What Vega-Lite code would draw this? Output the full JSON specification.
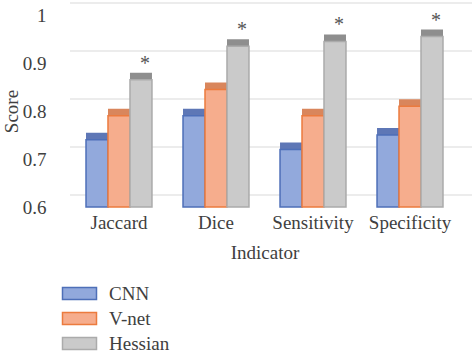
{
  "$schema": "https://vega.github.io/schema/vega-lite/v6.json",
  "width": 389,
  "height": 192,
  "autosize": {"type": "none"},
  "padding": {"left": 70, "top": 15, "right": 15, "bottom": 150},
  "background": "white",
  "config": {
    "view": {"stroke": null},
    "font": "Liberation Serif",
    "axis": {"domain": false, "ticks": false, "grid": false, "labelFontSize": 19, "labelColor": "#404040", "titleFontSize": 19, "titleFontWeight": "normal", "titleColor": "#404040", "labelFont": "Liberation Serif", "titleFont": "Liberation Serif"},
    "legend": {"labelFont": "Liberation Serif"}
  },
  "data": {
    "values": [
      {"Indicator": "Jaccard", "Model": "CNN", "Score": 0.74},
      {"Indicator": "Jaccard", "Model": "V-net", "Score": 0.79},
      {"Indicator": "Jaccard", "Model": "Hessian", "Score": 0.865},
      {"Indicator": "Dice", "Model": "CNN", "Score": 0.79},
      {"Indicator": "Dice", "Model": "V-net", "Score": 0.845},
      {"Indicator": "Dice", "Model": "Hessian", "Score": 0.935},
      {"Indicator": "Sensitivity", "Model": "CNN", "Score": 0.72},
      {"Indicator": "Sensitivity", "Model": "V-net", "Score": 0.79},
      {"Indicator": "Sensitivity", "Model": "Hessian", "Score": 0.945},
      {"Indicator": "Specificity", "Model": "CNN", "Score": 0.75},
      {"Indicator": "Specificity", "Model": "V-net", "Score": 0.81},
      {"Indicator": "Specificity", "Model": "Hessian", "Score": 0.955}
    ]
  },
  "encoding": {
    "x": {"field": "Indicator", "type": "nominal", "sort": ["Jaccard", "Dice", "Sensitivity", "Specificity"], "scale": {"paddingInner": 0.32, "paddingOuter": 0.165},
      "axis": {"labelAngle": 0, "labelPadding": 6, "title": "Indicator", "titlePadding": 11}},
    "xOffset": {"field": "Model", "sort": ["CNN", "V-net", "Hessian"], "scale": {"paddingInner": 0, "paddingOuter": 0}},
    "y": {"field": "Score", "type": "quantitative", "scale": {"domain": [0.6, 1], "nice": false, "zero": false},
      "axis": {"values": [0.6, 0.7, 0.8, 0.9, 1], "format": "~g", "labelPadding": 24, "title": "Score", "titlePadding": 1}}
  },
  "layer": [
    {
      "data": {"values": [{"g": 0.6}, {"g": 0.7}, {"g": 0.8}, {"g": 0.9}, {"g": 1.0}]},
      "mark": {"type": "rule", "yOffset": -12, "xOffset": 13, "x2Offset": 13, "color": "#D9D9D9", "strokeWidth": 1.2},
      "encoding": {
        "x": null,
        "xOffset": null,
        "y": {"field": "g", "type": "quantitative"}
      }
    },
    {
      "transform": [{"filter": "datum.Model === 'CNN'"}],
      "mark": {"type": "bar", "xOffset": 7, "x2Offset": 7, "yOffset": -7, "y2Offset": -7, "color": "#5E77B6"},
      "encoding": {"y2": {"datum": 0.6}}
    },
    {
      "transform": [{"filter": "datum.Model === 'V-net'"}],
      "mark": {"type": "bar", "xOffset": 7, "x2Offset": 7, "yOffset": -7, "y2Offset": -7, "color": "#D9865C"},
      "encoding": {"y2": {"datum": 0.6}}
    },
    {
      "transform": [{"filter": "datum.Model === 'Hessian'"}],
      "mark": {"type": "bar", "xOffset": 7, "x2Offset": 7, "yOffset": -7, "y2Offset": -7, "color": "#8E8E8E"},
      "encoding": {"y2": {"datum": 0.6}}
    },
    {
      "mark": {"type": "bar", "strokeWidth": 1.5},
      "encoding": {
        "y2": {"datum": 0.6},
        "fill": {"field": "Model", "type": "nominal", "sort": ["CNN", "V-net", "Hessian"], "scale": {"domain": ["CNN", "V-net", "Hessian"], "range": ["#92A9DC", "#F6AD8D", "#CACACA"]},
          "legend": {"orient": "none", "legendX": 0, "legendY": 269, "direction": "vertical", "title": null, "symbolType": "M-2,-0.7H2V0.7H-2Z", "symbolSize": 289, "labelFontSize": 19, "labelColor": "#404040", "labelOffset": 20, "rowPadding": 5, "symbolStrokeWidth": 1.5, "symbolOpacity": 1}},
        "stroke": {"field": "Model", "type": "nominal", "sort": ["CNN", "V-net", "Hessian"], "scale": {"domain": ["CNN", "V-net", "Hessian"], "range": ["#4E6FB8", "#EC7B3E", "#ABABAB"]},
          "legend": {"orient": "none", "legendX": 0, "legendY": 269, "direction": "vertical", "title": null, "symbolType": "M-2,-0.7H2V0.7H-2Z", "symbolSize": 289, "labelFontSize": 19, "labelColor": "#404040", "labelOffset": 20, "rowPadding": 5, "symbolStrokeWidth": 1.5, "symbolOpacity": 1}}
      }
    },
    {
      "transform": [{"filter": "datum.Model === 'Hessian'"}],
      "mark": {"type": "text", "text": "*", "dx": 4, "dy": -16, "fontSize": 20, "color": "#555555", "baseline": "middle"}
    }
  ]
}
